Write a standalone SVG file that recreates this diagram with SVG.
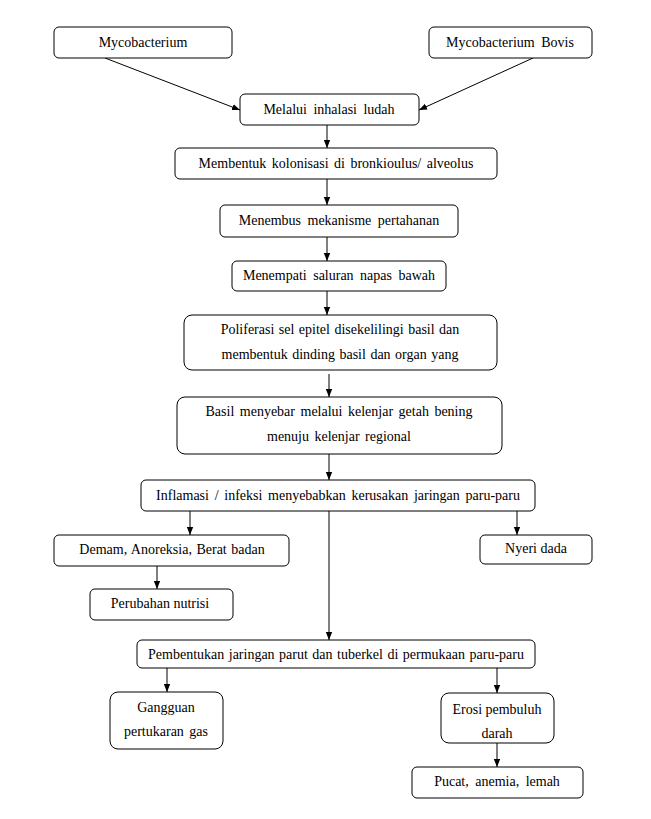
<svg xmlns="http://www.w3.org/2000/svg" width="651" height="819" viewBox="0 0 651 819">
<style>
rect{fill:#fff;stroke:#000;stroke-width:1}
text{font-family:"Liberation Serif","Times New Roman",serif;font-size:14px;fill:#000;text-anchor:middle}
.c line{stroke:#000;stroke-width:1;fill:none}
</style>
<defs>
<marker id="a" viewBox="0 0 10 10" refX="10" refY="5" markerWidth="8" markerHeight="8" markerUnits="userSpaceOnUse" orient="auto"><path d="M0,1L10,5L0,9Z" fill="#000"/></marker>
</defs>
<rect width="651" height="819" style="stroke:none"/>
<g class="c">
<line x1="105" y1="58" x2="240" y2="110" marker-end="url(#a)"/>
<line x1="533" y1="58" x2="419" y2="110" marker-end="url(#a)"/>
<line x1="327" y1="125" x2="327" y2="148" marker-end="url(#a)"/>
<line x1="327" y1="179" x2="327" y2="205" marker-end="url(#a)"/>
<line x1="327" y1="237" x2="327" y2="261" marker-end="url(#a)"/>
<line x1="327" y1="291" x2="327" y2="315" marker-end="url(#a)"/>
<line x1="329" y1="374" x2="329" y2="397" marker-end="url(#a)"/>
<line x1="329" y1="454" x2="329" y2="480" marker-end="url(#a)"/>
<line x1="190" y1="511" x2="190" y2="535" marker-end="url(#a)"/>
<line x1="517" y1="511" x2="517" y2="535" marker-end="url(#a)"/>
<line x1="329" y1="511" x2="329" y2="640" marker-end="url(#a)"/>
<line x1="157" y1="566" x2="157" y2="589" marker-end="url(#a)"/>
<line x1="167" y1="668" x2="167" y2="692" marker-end="url(#a)"/>
<line x1="497" y1="668" x2="497" y2="693" marker-end="url(#a)"/>
<line x1="497" y1="743" x2="497" y2="767" marker-end="url(#a)"/>
</g>
<g id="n1"><rect x="54" y="27" width="178" height="31" rx="5"/><text x="143" y="47">Mycobacterium</text></g>
<g id="n2"><rect x="429" y="27" width="163" height="31" rx="5"/><text x="510" y="47" word-spacing="3">Mycobacterium Bovis</text></g>
<g id="n3"><rect x="240" y="94" width="179" height="31" rx="5"/><text x="329" y="114" word-spacing="3">Melalui inhalasi ludah</text></g>
<g id="n4"><rect x="175" y="148" width="322" height="31" rx="5"/><text x="336" y="168" word-spacing="2">Membentuk kolonisasi di bronkioulus/ alveolus</text></g>
<g id="n5"><rect x="220" y="205" width="238" height="32" rx="5"/><text x="339" y="225" word-spacing="3">Menembus mekanisme pertahanan</text></g>
<g id="n6"><rect x="232" y="261" width="214" height="30" rx="5"/><text x="339" y="280" word-spacing="3">Menempati saluran napas bawah</text></g>
<g id="n7"><rect x="184" y="315" width="313" height="55" rx="8"/><text x="340" y="334" word-spacing="1">Poliferasi sel epitel disekelilingi basil dan</text><text x="340" y="359" word-spacing="1">membentuk dinding basil dan organ yang</text></g>
<g id="n8"><rect x="177" y="397" width="325" height="57" rx="8"/><text x="339" y="416" word-spacing="2">Basil menyebar melalui kelenjar getah bening</text><text x="339" y="441" word-spacing="2">menuju kelenjar regional</text></g>
<g id="n9"><rect x="141" y="480" width="394" height="31" rx="5"/><text x="338" y="500" word-spacing="2.2">Inflamasi / infeksi menyebabkan kerusakan jaringan paru-paru</text></g>
<g id="n10"><rect x="54" y="535" width="235" height="31" rx="5"/><text x="172" y="554" word-spacing="1">Demam, Anoreksia, Berat badan</text></g>
<g id="n11"><rect x="480" y="535" width="112" height="29" rx="5"/><text x="536" y="553">Nyeri dada</text></g>
<g id="n12"><rect x="90" y="589" width="143" height="31" rx="5"/><text x="160" y="608">Perubahan nutrisi</text></g>
<g id="n13"><rect x="137" y="640" width="398" height="28" rx="5"/><text x="336" y="659" word-spacing="1">Pembentukan jaringan parut dan tuberkel di permukaan paru-paru</text></g>
<g id="n14"><rect x="110" y="692" width="113" height="57" rx="8"/><text x="166" y="712">Gangguan</text><text x="166" y="736" word-spacing="2">pertukaran gas</text></g>
<g id="n15"><rect x="441" y="693" width="113" height="50" rx="8"/><text x="497" y="714">Erosi pembuluh</text><text x="497" y="738">darah</text></g>
<g id="n16"><rect x="412" y="767" width="171" height="31" rx="5"/><text x="497" y="786" word-spacing="3">Pucat, anemia, lemah</text></g>
</svg>
